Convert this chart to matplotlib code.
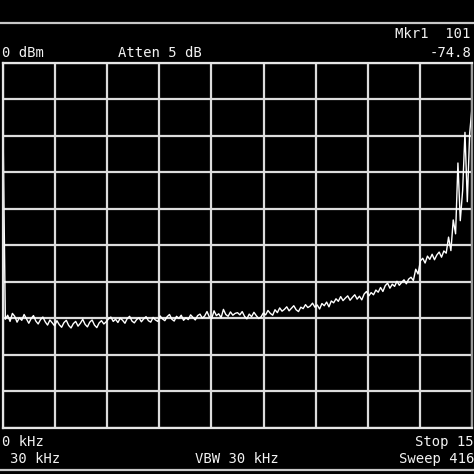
import numpy as np
import matplotlib
matplotlib.use("Agg")
import matplotlib.pyplot as plt
from matplotlib.lines import Line2D

# visible sweep: 15 .. 150 kHz (9 divisions), 201 points; ref -10 dBm, 10 dB/div
start_khz = 15
stop_khz = 150
khz_per_div = 15
ref_dbm = -10
db_per_div = 10

trace_dbm = [
    -27.5,
    -80.2, -79.1, -80.8, -78.6, -79.4, -81.0, -79.8, -80.5, -78.9, -80.1,
    -81.3, -80.0, -79.2, -80.7, -81.5, -80.3, -79.6, -80.9, -81.8, -80.4,
    -81.2, -82.0, -80.6, -81.7, -82.4, -81.1, -80.5, -81.9, -82.6, -81.4,
    -80.8, -82.1, -81.3, -80.2, -81.6, -82.3, -81.0, -80.4, -81.8, -82.5,
    -81.2, -80.6, -81.5, -80.9, -80.1,
    -79.6, -80.8, -80.2, -81.1, -79.9, -80.5, -81.3, -80.0, -79.4, -80.7,
    -81.2, -80.3, -79.8, -80.9, -80.1, -79.5, -80.6, -81.0, -79.7, -80.4,
    -80.8, -79.3, -80.1, -80.6, -79.5, -78.9, -80.2, -80.7, -79.4, -80.0,
    -79.1, -80.5, -79.8, -80.3, -79.0, -79.7, -80.4, -79.2, -78.8, -79.9,
    -79.3, -78.1, -79.6, -80.0, -77.9, -79.2, -78.7, -79.8, -77.5, -78.9,
    -79.4, -78.2, -79.1, -78.6, -78.4,
    -79.0, -78.1, -79.4, -80.1, -78.8, -79.5, -78.3, -79.2, -80.0, -79.6,
    -78.5, -79.0, -77.8, -78.6, -79.1,
    -77.6, -78.4, -77.1, -78.0, -77.5, -76.8, -77.9, -77.2, -76.5, -77.6,
    -78.1, -76.9, -77.3, -76.2, -77.0, -76.6, -75.8, -76.9, -76.3, -77.4,
    -75.9, -76.5, -75.5, -76.8, -75.2,
    -75.7, -74.6, -75.3, -74.0, -75.1, -74.4, -73.8, -75.0, -74.2, -73.5,
    -74.7, -73.9, -74.9, -73.3, -72.6, -73.8, -72.9, -73.5, -72.2, -72.8,
    -71.5, -72.6, -71.0, -70.3, -71.7, -70.6, -71.2, -69.8, -70.9, -70.1,
    -69.4, -70.5, -69.2, -68.7, -69.6,
    -66.5, -67.8, -64.2, -63.5, -64.8, -62.9, -63.8, -62.4, -63.9, -62.6,
    -61.8, -63.2, -61.5, -62.1, -57.7, -61.4, -53.0,
    -56.8, -37.4, -53.2, -45.0, -29.0, -48.0, -29.3, -22.3,
]

freq_khz = np.linspace(start_khz, stop_khz, len(trace_dbm))

W, H = 474, 474
fig = plt.figure(figsize=(W / 100, H / 100), dpi=100, facecolor="black")

# graticule area in pixels
left, right, top, bottom = 3, 472, 63, 428
ax = fig.add_axes([left / W, 1 - bottom / H, (right - left) / W, (bottom - top) / H])
ax.set_facecolor("black")
ax.set_xlim(start_khz, stop_khz)
ax.set_ylim(ref_dbm - 10 * db_per_div, ref_dbm)
ax.set_xticks(np.arange(start_khz, stop_khz + 1, khz_per_div))
ax.set_yticks(np.arange(ref_dbm - 10 * db_per_div, ref_dbm + 1, db_per_div))
ax.grid(True, color="#dcdcdc", linewidth=1.6)
ax.tick_params(length=0, labelbottom=False, labelleft=False)
for s in ax.spines.values():
    s.set_color("#e6e6e6")
    s.set_linewidth(1.6)
ax.spines["right"].set_color("#9a9a9a")

ax.plot(freq_khz, trace_dbm, color="white", linewidth=1.0)

# separator lines above and below the display
for ypx in (23, 470):
    fig.add_artist(Line2D([0, 1], [1 - ypx / H] * 2, transform=fig.transFigure,
                          color="#c8c8c8", linewidth=1.6))

font = dict(family="DejaVu Sans Mono", fontsize=10, color="#f2f2f2", va="center")


def label(xpx, ypx, s, ha="left"):
    fig.text(xpx / W, 1 - ypx / H, s, ha=ha, **font)


label(2, 53, "0 dBm")
label(118, 53, "Atten 5 dB")
label(395, 34, "Mkr1  101")
label(472, 53, "-74.8", ha="right")
label(2, 442, "0 kHz")
label(10, 459, "30 kHz")
label(195, 459, "VBW 30 kHz")
label(474, 442, "Stop 15", ha="right")
label(474, 459, "Sweep 416", ha="right")

fig.savefig("out.png", dpi=100, facecolor="black")
